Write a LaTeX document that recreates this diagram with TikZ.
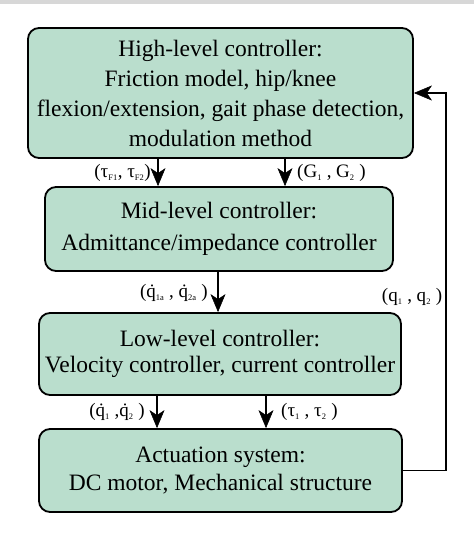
\documentclass[tikz,border=0pt]{standalone}
\usepackage{fontspec}
\setmainfont{Liberation Serif}
\usetikzlibrary{arrows.meta}
\definecolor{boxfill}{RGB}{186,222,205}
\definecolor{topband}{RGB}{215,215,215}
\newcommand{\sbs}[1]{\textsubscript{\fontsize{8.5}{8.5}\selectfont #1}}
\begin{document}
\begin{tikzpicture}[x=1pt,y=-1pt,
  ctrlbox/.style={draw, line width=1.8pt, rounded corners=11pt, fill=boxfill,
    align=center, inner sep=0pt, font=\fontsize{23.5}{30}\selectfont},
  tip/.tip={Stealth[length=18pt,width=15pt,inset=5pt,line width=0.5pt]},
  flow/.style={line width=1.8pt, -tip},
  lbl/.style={font=\fontsize{19}{22}\selectfont, inner sep=1pt}]
\useasboundingbox (0,0) rectangle (474,540);
\fill[topband] (0,0) rectangle (474,4);

\node[ctrlbox, minimum width=385pt, minimum height=130pt] (high) at (220.5,93)
  {High-level controller:\\Friction model, hip/knee\\flexion/extension, gait phase detection,\\modulation method};
\node[ctrlbox, minimum width=348pt, minimum height=84pt] (mid) at (219,229)
  {Mid-level controller:\\[2pt]Admittance/impedance controller};
\node[ctrlbox, minimum width=362pt, minimum height=82pt, font=\fontsize{23.5}{26}\selectfont] (low) at (220,354)
  {Low-level controller:\\Velocity controller, current controller};
\node[ctrlbox, minimum width=363pt, minimum height=83pt, font=\fontsize{23.5}{28}\selectfont] (act) at (220.5,470.5)
  {Actuation system:\\DC motor, Mechanical structure};

\coordinate (fb) at (446,0);
\draw[flow] (high.south -| 158,0) -- (mid.north -| 158,0);
\draw[flow] (high.south -| 285,0) -- (mid.north -| 285,0);
\draw[flow] (mid.south -| 218,0) -- (low.north -| 218,0);
\draw[flow] (low.south -| 157,0) -- (act.north -| 157,0);
\draw[flow] (low.south -| 266,0) -- (act.north -| 266,0);
\draw[flow] (act.east) -- (act.east -| fb) -- (high.east -| fb) -- (high.east);

\node[lbl, anchor=east] (l1) at (152,173) {(τ\sbs{F1}, τ\sbs{F2})};
\node[lbl, anchor=west] (l2) at (296,173) {(G\sbs{1} , G\sbs{2} )};
\node[lbl, anchor=east] (l3) at (209,293) {(\.q\sbs{1a} , \.q\sbs{2a} )};
\node[lbl] (l4) at (412,297) {(q\sbs{1} , q\sbs{2} )};
\node[lbl, anchor=east] (l5) at (146,412) {(\.q\sbs{1} ,\.q\sbs{2} )};
\node[lbl, anchor=west] (l6) at (280,412) {(τ\sbs{1} , τ\sbs{2} )};
\end{tikzpicture}
\end{document}
